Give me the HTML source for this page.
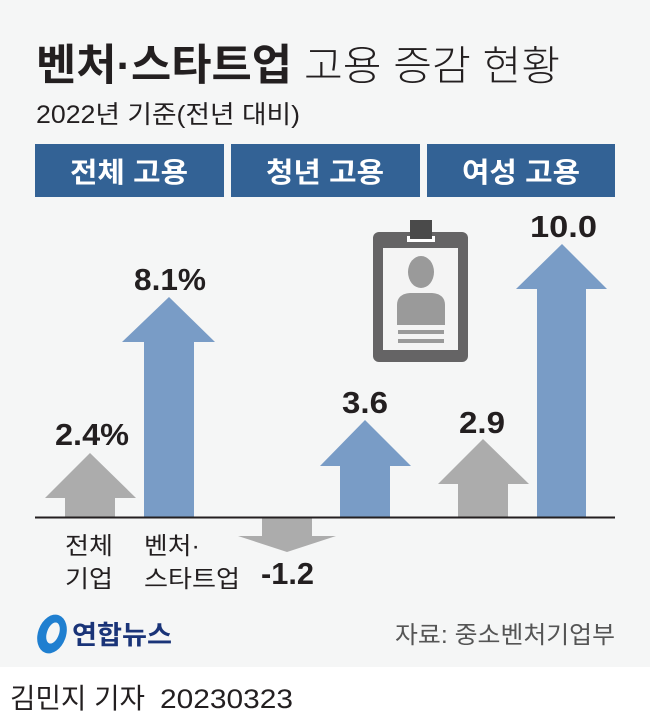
<!DOCTYPE html>
<html><head><meta charset="utf-8"><style>
body{margin:0;width:650px;height:726px;background:#fff;overflow:hidden}
svg{display:block}
text{font-family:"Liberation Sans","Noto Sans CJK KR",sans-serif}
</style></head><body>
<svg width="650" height="726" viewBox="0 0 650 726">
<rect x="0" y="0" width="650" height="667" fill="#f5f6f6"/>
<text x="36" y="80" font-size="43" font-weight="bold" fill="#231f20" textLength="256" lengthAdjust="spacingAndGlyphs">벤처·스타트업</text>
<text x="304" y="80" font-size="41" font-weight="300" fill="#231f20" textLength="256" lengthAdjust="spacingAndGlyphs">고용 증감 현황</text>
<text x="36" y="123" font-size="25" fill="#231f20" textLength="264" lengthAdjust="spacingAndGlyphs">2022년 기준(전년 대비)</text>
<rect x="35" y="144" width="189" height="53" fill="#336295"/>
<rect x="231" y="144" width="189" height="53" fill="#336295"/>
<rect x="427" y="144" width="188" height="53" fill="#336295"/>
<g font-size="28" font-weight="bold" fill="#fff">
<text x="70" y="182" textLength="118" lengthAdjust="spacingAndGlyphs">전체 고용</text>
<text x="266" y="182" textLength="118" lengthAdjust="spacingAndGlyphs">청년 고용</text>
<text x="462" y="182" textLength="118" lengthAdjust="spacingAndGlyphs">여성 고용</text>
</g>
<!-- badge -->
<rect x="373" y="232" width="95" height="130" rx="6" fill="#656465"/>
<rect x="383" y="248" width="75" height="102" fill="#f4f4f4"/>
<rect x="407" y="236" width="28" height="6" fill="#fff"/>
<rect x="410" y="220" width="22" height="19" fill="#4a4a4a"/>
<ellipse cx="421" cy="272" rx="13" ry="16" fill="#9a9a9a"/>
<path d="M397 325 V305 Q397 294 410 293 H432 Q445 294 445 305 V325 Z" fill="#9a9a9a"/>
<rect x="398" y="330" width="46" height="4" fill="#9a9a9a"/>
<rect x="398" y="339" width="46" height="4" fill="#9a9a9a"/>
<!-- arrows -->
<polygon points="90,453 136,498 115,498 115,517 65,517 65,498 45,498" fill="#acacac"/>
<polygon points="169,297 215,342 194,342 194,517 144,517 144,342 122,342" fill="#799cc6"/>
<polygon points="287,552 336,536 312,536 312,518 262,518 262,536 238,536" fill="#acacac"/>
<polygon points="365,420 411,466 390,466 390,517 340,517 340,466 320,466" fill="#799cc6"/>
<polygon points="483,439 529,484 508,484 508,517 458,517 458,484 438,484" fill="#acacac"/>
<polygon points="562,244 607,289 586,289 586,517 537,517 537,289 516,289" fill="#799cc6"/>
<line x1="35" y1="517.5" x2="615" y2="517.5" stroke="#231f20" stroke-width="2"/>
<g font-size="31" font-weight="bold" fill="#231f20">
<text x="55" y="445" textLength="74" lengthAdjust="spacingAndGlyphs">2.4%</text>
<text x="134" y="290" textLength="72" lengthAdjust="spacingAndGlyphs">8.1%</text>
<text x="261" y="584" textLength="53" lengthAdjust="spacingAndGlyphs">-1.2</text>
<text x="342" y="413" textLength="46" lengthAdjust="spacingAndGlyphs">3.6</text>
<text x="459" y="433" textLength="46" lengthAdjust="spacingAndGlyphs">2.9</text>
<text x="530" y="237" textLength="67" lengthAdjust="spacingAndGlyphs">10.0</text>
</g>
<g font-size="24" fill="#231f20">
<text x="65" y="554" textLength="48" lengthAdjust="spacingAndGlyphs">전체</text>
<text x="65" y="587" textLength="48" lengthAdjust="spacingAndGlyphs">기업</text>
<text x="144" y="554" textLength="56" lengthAdjust="spacingAndGlyphs">벤처·</text>
<text x="144" y="587" textLength="96" lengthAdjust="spacingAndGlyphs">스타트업</text>
</g>
<!-- logo -->
<ellipse cx="52" cy="634" rx="14" ry="20" transform="rotate(20 52 634)" fill="#1f7fd0"/>
<ellipse cx="53" cy="633" rx="6" ry="11" transform="rotate(20 53 633)" fill="#f5f6f6"/>
<text x="72" y="644" font-size="26" font-weight="bold" fill="#1a3478" textLength="100" lengthAdjust="spacingAndGlyphs">연합뉴스</text>
<text x="395" y="643" font-size="24" fill="#555" textLength="220" lengthAdjust="spacingAndGlyphs">자료: 중소벤처기업부</text>
<text x="10" y="708" font-size="28" fill="#231f20" textLength="135" lengthAdjust="spacingAndGlyphs">김민지 기자</text>
<text x="160" y="708" font-size="27" fill="#231f20" textLength="133" lengthAdjust="spacingAndGlyphs">20230323</text>
</svg>
</body></html>
